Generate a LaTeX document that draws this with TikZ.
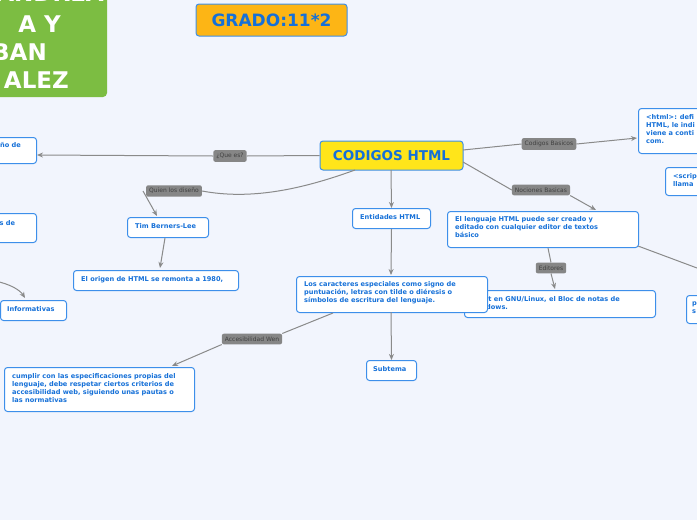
\documentclass[tikz,border=0pt]{standalone}
\usepackage{fontspec}
\setmainfont{DejaVu Sans}
\usetikzlibrary{arrows.meta,calc}
\definecolor{bg}{HTML}{F2F5FD}
\definecolor{tb}{HTML}{1570D8}
\definecolor{bb}{HTML}{3D8FEA}
\definecolor{lab}{HTML}{868686}
\definecolor{ln}{HTML}{8A8A8A}
\definecolor{gr}{HTML}{7CBD42}
\definecolor{org}{HTML}{FDB515}
\definecolor{yel}{HTML}{FFE51A}
\tikzset{
 bx/.style={draw=bb,line width=1pt,rounded corners=3pt,fill=white,inner sep=0pt,anchor=north west},
 lb/.style={fill=lab,rounded corners=2pt,text=black!75,font=\fontsize{6}{7}\selectfont,inner sep=3pt},
 cn/.style={draw=ln,line width=1pt},
 ar/.style={cn,-{Stealth[length=6pt,width=5pt]}},
 gt/.style={anchor=base east,text=white,font=\fontsize{23}{26}\selectfont\bfseries,inner sep=0pt},
}
\newcommand{\bxn}[6]{\node[bx,minimum width=#3pt,minimum height=#4pt] (#1) at (#2) {};
 \node[anchor=north west,text=tb,font=\fontsize{6.6}{8}\selectfont\bfseries,align=left,inner sep=0pt] at ($(#1.north west)+(#5)$) {#6};}
\begin{document}
\begin{tikzpicture}[x=1pt,y=-1pt]
\fill[bg] (0,0) rectangle (697,520);
\useasboundingbox (0,0) rectangle (697,520);
\begin{scope}
\clip (0,0) rectangle (697,520);
\node[lb] (qe) at (230,156) {¿Que es?};
\node[lb] (qd) at (174,191) {Quien los diseño};
\node[lb] (cb) at (549,144) {Codigos Basicos};
\node[lb] (nb) at (541,190) {Nociones Basicas};
\node[lb] (ed) at (551,268) {Editores};
\node[lb] (aw) at (252,339) {Accesibilidad Wen};
\bxn{l1}{-10,137}{46}{26}{10,5}{ño de}
\bxn{l2}{-10,213}{46}{29}{5,7}{as de}
\bxn{inf}{0,300}{66}{20}{7,6}{Informativas}
\bxn{tim}{127,217}{81}{20}{8,6}{Tim Berners-Lee}
\bxn{ori}{73,270}{165}{20}{8,6}{El origen de HTML se remonta a 1980,}
\bxn{ent}{352,208}{78}{20}{8,6}{Entidades HTML}
\bxn{gnu}{464,290}{191}{27}{0,6}{\hspace*{22pt}lt en GNU/Linux, el Bloc de notas de\\\hspace*{22pt}dows.}
\bxn{car}{296,276}{191}{36}{8,5}{Los caracteres especiales como signo de\\puntuación, letras con tilde o diéresis o\\símbolos de escritura del lenguaje.}
\bxn{sub}{366,360}{50}{20}{7,6}{Subtema}
\bxn{cum}{4,367}{190}{44}{8,6}{cumplir con las especificaciones propias del\\lenguaje, debe respetar ciertos criterios de\\accesibilidad web, siguiendo unas pautas o\\las normativas}
\bxn{len}{447,211}{191}{36}{8,5}{El lenguaje HTML puede ser creado y\\editado con cualquier editor de textos\\básico}
\bxn{htm}{638,108}{70}{45}{8,6}{<html>: defi\\HTML, le indi\\viene a conti\\com.}
\bxn{scr}{665,167}{40}{28}{8,6}{<scrip\\llama}
\bxn{rb}{686,295}{20}{28}{6,7}{p\\s}
\node[draw=bb,line width=1pt,rounded corners=3pt,fill=yel,text=tb,font=\fontsize{13.5}{15}\selectfont\bfseries,minimum width=143pt,minimum height=29pt,inner sep=0pt] (main) at (391.5,155.5) {CODIGOS HTML};
\node[draw=bb,line width=1pt,rounded corners=3pt,fill=org,text=tb,font=\fontsize{17}{19}\selectfont\bfseries,minimum width=151pt,minimum height=32pt,inner sep=0pt] (grado) at (271.5,20) {GRADO:11*2};
\node[fill=gr,rounded corners=4pt,minimum width=117pt,minimum height=104pt,inner sep=0pt] (gb) at (48.5,45) {};
\node[gt] at (104,1) {ANDREA};
\node[gt] at (61,32) {A Y};
\node[gt] at (47,60) {BAN};
\node[gt] at (69,88) {ALEZ};
\draw[cn] (main.west) -- (qe.east);
\draw[ar] (qe.west) -- (37,155);
\draw[cn] (355,170) .. controls (300,190) and (250,200) .. (qd.east);
\draw[ar] (143,191) -- (157,216);
\draw[ar] (165,238) -- (160,268);
\draw[ar] (-5,281) .. controls (10,284) and (20,290) .. (25,298);
\draw[ar] (391,170) -- (ent.north);
\draw[ar] (ent.south) -- (391,275);
\draw[ar] (391,312) -- (sub.north);
\draw[cn] (333,313) -- (aw.north east);
\draw[ar] (aw.south west) -- (172,366);
\draw[cn] (463,150) -- (cb.west);
\draw[ar] (cb.east) -- (637,138);
\draw[cn] (463,162) -- (nb.west);
\draw[ar] (nb.south east) -- (596,210);
\draw[cn] (548,248) -- (ed.north);
\draw[ar] (ed.south) -- (555,289);
\draw[cn] (638,246) -- (697,268);
\end{scope}
\end{tikzpicture}
\end{document}
